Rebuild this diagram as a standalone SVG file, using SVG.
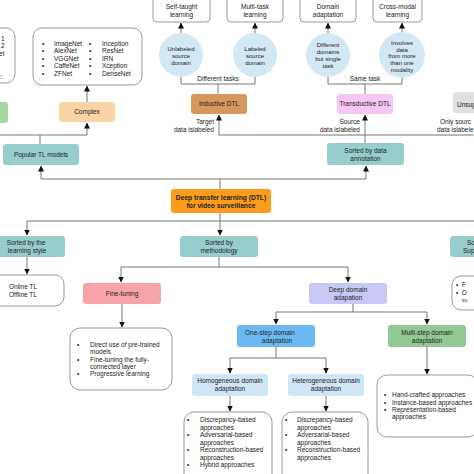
<svg xmlns="http://www.w3.org/2000/svg" width="474" height="474" viewBox="0 0 474 474">
<style>
text{font-family:"Liberation Sans",Arial,sans-serif;font-size:6.5px;fill:#222}
.c{text-anchor:middle}
.e{text-anchor:end}
.b{font-weight:bold;font-size:6.7px}
.sm{font-size:6px}
.w{fill:#fff;stroke:#999;stroke-width:1}
.t{fill:#97cdcd}
.circ{fill:#d3e8f5}
.ln{fill:none;stroke:#777;stroke-width:1}
.ar{fill:none;stroke:#777;stroke-width:1;marker-end:url(#ah)}
</style>
<defs>
<marker id="ah" markerUnits="userSpaceOnUse" markerWidth="6" markerHeight="6" refX="5.5" refY="3" orient="auto">
<path d="M0,0 L6,3 L0,6 z" fill="#111"/>
</marker>
</defs>
<rect width="474" height="474" fill="#fff"/>

<g id="connectors">
<!-- DTL up to popular and annotation -->
<polyline class="ln" points="220,189 220,179"/>
<polyline class="ar" points="41,179 41,166"/>
<polyline class="ln" points="41,179 366,179"/>
<polyline class="ar" points="366,179 366,166"/>
<!-- popular to complex -->
<polyline class="ln" points="40,144 40,135"/>
<polyline class="ln" points="-5,135 87,135"/>
<polyline class="ar" points="87,135 87,123"/>
<polyline class="ar" points="87,102 87,86"/>
<!-- annotation to inductive/transductive -->
<polyline class="ln" points="365,143 365,135"/>
<polyline class="ln" points="219,135 480,135"/>
<polyline class="ar" points="219,135 219,115"/>
<polyline class="ar" points="365,135 365,115"/>
<!-- inductive bracket -->
<polyline class="ln" points="218,94 218,84"/>
<polyline class="ln" points="181,77 181,84 255,84 255,77"/>
<polyline class="ln" points="365,94 365,84"/>
<polyline class="ln" points="328,77 328,84 402,84 402,78"/>
<!-- circles to boxes -->
<polyline class="ar" points="181,33 181,23"/>
<polyline class="ar" points="255,33 255,23"/>
<polyline class="ar" points="328,33 328,23"/>
<polyline class="ar" points="402,32 402,23"/>
<!-- DTL down -->
<polyline class="ln" points="27,221 480,221"/>
<polyline class="ar" points="220,213 220,235"/>
<polyline class="ar" points="27,221 27,235"/>
<polyline class="ar" points="27,257 27,274"/>
<!-- methodology -->
<polyline class="ln" points="219,257 219,267"/>
<polyline class="ln" points="121,267 348,267"/>
<polyline class="ar" points="121,267 121,282"/>
<polyline class="ar" points="348,267 348,282"/>
<polyline class="ar" points="122,304 122,327"/>
<!-- deep domain -->
<polyline class="ln" points="353,304 353,312"/>
<polyline class="ln" points="276,312 427,312"/>
<polyline class="ar" points="276,312 276,324"/>
<polyline class="ar" points="427,312 427,324"/>
<!-- one-step -->
<polyline class="ln" points="276,347 276,358"/>
<polyline class="ln" points="230,358 326,358"/>
<polyline class="ar" points="230,358 230,373"/>
<polyline class="ar" points="326,358 326,373"/>
<polyline class="ar" points="230,396 230,411"/>
<polyline class="ar" points="326,396 326,411"/>
<polyline class="ar" points="427,347 427,374"/>
</g>

<g id="left-list">
<rect class="w" x="-60" y="28" width="75" height="55" rx="9"/>
<text class="e" x="4.5" y="41.3">1</text>
<text class="e" x="4.5" y="48.3">2</text>
<text class="e" x="4.5" y="56.3">et</text>
<text class="e" x="2.5" y="79.3" fill="#999" style="fill:#aaa">c</text>
</g>
<g id="left-green"><rect x="-20" y="102" width="28" height="21" rx="3" fill="#a5d6a0"/></g>

<g id="complex-list">
<rect class="w" x="33" y="28" width="109" height="57" rx="9"/>
<text x="42" y="45.6">•</text><text x="54" y="45.6">ImageNet</text>
<text x="42" y="53.1">•</text><text x="54" y="53.1">AlexNet</text>
<text x="42" y="60.6">•</text><text x="54" y="60.6">VGGNet</text>
<text x="42" y="68.1">•</text><text x="54" y="68.1">CaffeNet</text>
<text x="42" y="75.6">•</text><text x="54" y="75.6">ZFNet</text>
<text x="89" y="45.6">•</text><text x="102" y="45.6">Inception</text>
<text x="89" y="53.1">•</text><text x="102" y="53.1">ResNet</text>
<text x="89" y="60.6">•</text><text x="102" y="60.6">IRN</text>
<text x="89" y="68.1">•</text><text x="102" y="68.1">Xception</text>
<text x="89" y="75.6">•</text><text x="102" y="75.6">DenseNet</text>
</g>
<g id="complex"><rect x="59" y="102" width="56" height="20" rx="3" fill="#fcd3a5"/><text class="c" x="87" y="114.3">Complex</text></g>
<g id="popular"><rect class="t" x="3" y="144" width="76" height="21" rx="3"/><text class="c" x="41" y="157.3">Popular TL models</text></g>

<g id="self-taught"><rect class="w" x="153" y="-6" width="57" height="28" rx="4"/><text class="c" x="181.5" y="9.3">Self-taught</text><text class="c" x="181.5" y="17.3">learning</text></g>
<g id="multi-task"><rect class="w" x="227" y="-6" width="56" height="28" rx="4"/><text class="c" x="255" y="9.3">Multi-task</text><text class="c" x="255" y="17.3">learning</text></g>
<g id="domain-adaptation"><rect class="w" x="300" y="-6" width="56" height="28" rx="4"/><text class="c" x="328" y="9.3">Domain</text><text class="c" x="328" y="17.3">adaptation</text></g>
<g id="cross-modal"><rect class="w" x="373" y="-6" width="49" height="28" rx="4"/><text class="c" x="397.5" y="9.3">Cross-modal</text><text class="c" x="397.5" y="17.3">learning</text></g>

<g id="c-unlabeled"><circle class="circ" cx="181" cy="55" r="22"/><text class="c sm" x="181" y="51">Unlabeled</text><text class="c sm" x="181" y="58">source</text><text class="c sm" x="181" y="65">domain</text></g>
<g id="c-labeled"><circle class="circ" cx="255" cy="55" r="22"/><text class="c sm" x="255" y="51">Labeled</text><text class="c sm" x="255" y="58">source</text><text class="c sm" x="255" y="65">domain</text></g>
<g id="c-different"><circle class="circ" cx="328" cy="55" r="22"/><text class="c sm" x="328" y="47.2">Different</text><text class="c sm" x="328" y="54.2">domains</text><text class="c sm" x="328" y="61.2">but single</text><text class="c sm" x="328" y="68.2">task</text></g>
<g id="c-involves"><circle class="circ" cx="402" cy="55" r="23"/><text class="c sm" x="402" y="45">Involves</text><text class="c sm" x="402" y="51.7">data</text><text class="c sm" x="402" y="58.4">from more</text><text class="c sm" x="402" y="65.1">than one</text><text class="c sm" x="402" y="71.8">modality</text></g>

<text class="c" x="218" y="81.3">Different tasks</text>
<text class="c" x="365" y="81.3">Same task</text>

<g id="inductive"><rect x="191" y="94" width="56" height="20" rx="3" fill="#d6985c"/><text class="c" x="219" y="106.3">Inductive DTL</text></g>
<g id="transductive"><rect x="337" y="94" width="56" height="20" rx="3" fill="#f8c6f6"/><text class="c" x="365" y="106.3">Transductive DTL</text></g>
<g id="unsup"><rect x="453" y="92" width="50" height="21" rx="3" fill="#e0e0e0"/><text x="457" y="107.3">Unsup</text></g>

<text class="e" x="214" y="124.3">Target</text>
<text class="e" x="214" y="131.5">data islabeled</text>
<text class="e" x="360" y="124.3">Source</text>
<text class="e" x="360" y="131.5">data islabeled</text>
<text x="440" y="124.3">Only sourc</text>
<text x="437" y="131.5">data islabele</text>

<g id="annotation"><rect class="t" x="327" y="143" width="77" height="22" rx="3"/><text class="c" x="365.5" y="153.3">Sorted by data</text><text class="c" x="365.5" y="160.8">annotation</text></g>

<g id="dtl"><rect x="171" y="189" width="100" height="24" rx="3" fill="#fb9c1a"/><text class="c b" x="221" y="200.4">Deep transfer learning (DTL)</text><text class="c b" x="221" y="207.9">for video surveillance</text></g>

<g id="learning-style"><rect class="t" x="-11" y="236" width="76" height="21" rx="3"/><text class="c" x="26" y="245.3">Sorted by  the</text><text class="c" x="27" y="253.3">learning style</text></g>
<g id="methodology"><rect class="t" x="180" y="236" width="78" height="21" rx="3"/><text class="c" x="219" y="245.3">Sorted by</text><text class="c" x="219" y="253.3">methodology</text></g>
<g id="supervision"><rect class="t" x="450" y="236" width="78" height="21" rx="3"/><text x="467" y="245.3">So</text><text x="463" y="253.3">Sup</text></g>

<g id="online"><rect class="w" x="-20" y="275" width="84" height="31" rx="9"/><text x="9" y="289">Online TL</text><text x="9" y="296.5">Offline TL</text></g>
<g id="sup-list"><rect class="w" x="452" y="276" width="78" height="34" rx="9"/><text x="456" y="287.3">•</text><text x="462" y="287.3">F</text><text x="456" y="295.3">•</text><text x="462" y="295.3">D</text><text x="462" y="302" style="font-size:5px">su</text></g>

<g id="fine-tuning"><rect x="83" y="283" width="78" height="21" rx="3" fill="#f6a4a7"/><text class="c" x="122" y="296.3">Fine-tuning</text></g>
<g id="deep-domain"><rect x="309" y="283" width="78" height="21" rx="3" fill="#c8c8f6"/><text class="c" x="348" y="292.3">Deep domain</text><text class="c" x="348" y="300.3">adapation</text></g>

<g id="ft-list"><rect class="w" x="70" y="328" width="102" height="62" rx="10"/>
<text x="77" y="346.6">•</text><text x="90" y="346.6">Direct use of pre-trained</text>
<text x="90" y="354">models</text>
<text x="77" y="361.6">•</text><text x="90" y="361.6">Fine-tuning the fully-</text>
<text x="90" y="369">connected layer</text>
<text x="77" y="376.3">•</text><text x="90" y="376.3">Progressive learning</text>
</g>

<g id="one-step"><rect x="237" y="325" width="78" height="22" rx="3" fill="#6bb9f2"/><text class="c" x="270" y="335.3">One-step domain</text><text class="c" x="277" y="342.8">adaptation</text></g>
<g id="multi-step"><rect x="388" y="325" width="78" height="22" rx="3" fill="#92c992"/><text class="c" x="427" y="335.3">Multi-step domain</text><text class="c" x="427" y="342.8">adaptation</text></g>

<g id="homogeneous"><rect x="192" y="374" width="76" height="22" rx="3" fill="#cfe6f6"/><text class="c" x="230" y="383.3">Homogeneous domain</text><text class="c" x="230" y="391.3">adaptation</text></g>
<g id="heterogeneous"><rect x="288" y="374" width="76" height="22" rx="3" fill="#cfe6f6"/><text class="c" x="326" y="383.3">Heterogeneous domain</text><text class="c" x="326" y="391.3">adaptation</text></g>

<g id="homo-list"><rect class="w" x="184" y="412" width="88" height="80" rx="10"/>
<text x="187" y="422.3">•</text><text x="200" y="422.3">Discrepancy-based</text>
<text x="200" y="429.6">approaches</text>
<text x="187" y="437.3">•</text><text x="200" y="437.3">Adversarial-based</text>
<text x="200" y="444.6">approaches</text>
<text x="187" y="452.3">•</text><text x="200" y="452.3">Reconstruction-based</text>
<text x="200" y="459.6">approaches</text>
<text x="187" y="467.3">•</text><text x="200" y="467.3">Hybrid approaches</text>
</g>
<g id="hetero-list"><rect class="w" x="282" y="412" width="86" height="80" rx="10"/>
<text x="285" y="422.3">•</text><text x="297" y="422.3">Discrepancy-based</text>
<text x="297" y="429.6">approaches</text>
<text x="285" y="437.3">•</text><text x="297" y="437.3">Adversarial-based</text>
<text x="297" y="444.6">approaches</text>
<text x="285" y="452.3">•</text><text x="297" y="452.3">Reconstruction-based</text>
<text x="297" y="459.6">approaches</text>
</g>
<g id="multi-list"><rect class="w" x="377" y="375" width="101" height="62" rx="10"/>
<text x="384" y="397.3">•</text><text x="392" y="397.3">Hand-crafted approaches</text>
<text x="384" y="404.6">•</text><text x="392" y="404.6">Instance-based approaches</text>
<text x="384" y="411.9">•</text><text x="392" y="411.9">Representation-based</text>
<text x="392" y="419.2">approaches</text>
</g>
</svg>
